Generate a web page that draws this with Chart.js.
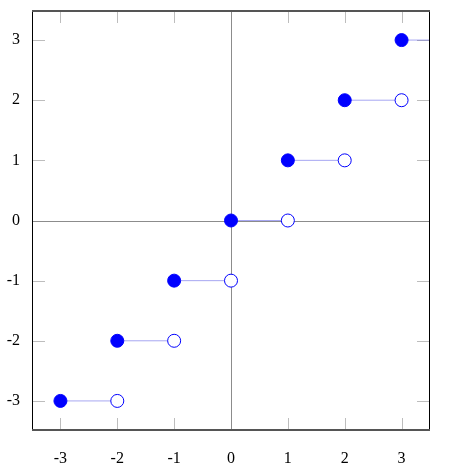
<!DOCTYPE html>
<html lang="en">
<head>
    <meta charset="UTF-8">
    <title>Floor function</title>
    <script src="https://cdn.jsdelivr.net/npm/chart.js"></script>
    <style>
        body { margin: 0; background: #fff; }
        #floorChart { display: block; }
    </style>
</head>
<body>
    <canvas id="floorChart" width="460" height="472"></canvas>
    <script>
        // step values
        const stepStart = [-3, -2, -1, 0, 1, 2, 3];   // filled dot x
        const stepValue = [-3, -2, -1, 0, 1, 2, 3];   // y of each step
        const stepEnd = [-2, -1, 0, 1, 2, 3, 3.5];    // where each step's line stops
        const openX = [-2, -1, 0, 1, 2, 3];           // open dot x
        const openY = [-3, -2, -1, 0, 1, 2];
        const tickValues = [-3, -2, -1, 0, 1, 2, 3];
        const axisMin = -3.5, axisMax = 3.5;

        const blue = '#0000ff';
        const stepLine = 'rgba(80, 80, 230, 0.5)';

        // one small dataset per horizontal step
        const stepSets = stepStart.map((x, i) => ({
            type: 'scatter',
            data: [{ x: x, y: stepValue[i] }, { x: stepEnd[i], y: stepValue[i] }],
            showLine: true,
            borderColor: stepLine,
            borderWidth: 1,
            pointRadius: 0,
            order: 2
        }));

        // frame, inner ticks and the two axis lines
        const framePlugin = {
            id: 'frame',
            beforeDatasetsDraw(chart) {
                const { ctx, chartArea: a, scales: { x, y } } = chart;
                const len = 13;
                ctx.save();
                ctx.lineWidth = 1;
                ctx.strokeStyle = '#bdbdbd';
                ctx.beginPath();
                tickValues.forEach(v => {
                    const px = Math.round(x.getPixelForValue(v)) + 0.5;
                    ctx.moveTo(px, a.top); ctx.lineTo(px, a.top + len);
                    ctx.moveTo(px, a.bottom); ctx.lineTo(px, a.bottom - len);
                    const py = Math.round(y.getPixelForValue(v)) + 0.5;
                    ctx.moveTo(a.left, py); ctx.lineTo(a.left + len, py);
                    ctx.moveTo(a.right, py); ctx.lineTo(a.right - len, py);
                });
                ctx.stroke();

                ctx.strokeStyle = '#8c8c8c';
                ctx.beginPath();
                const x0 = Math.round(x.getPixelForValue(0)) + 0.5;
                const y0 = Math.round(y.getPixelForValue(0)) + 0.5;
                ctx.moveTo(x0, a.top); ctx.lineTo(x0, a.bottom);
                ctx.moveTo(a.left, y0); ctx.lineTo(a.right, y0);
                ctx.stroke();
                ctx.restore();
            },
            afterDraw(chart) {
                const { ctx, chartArea: a } = chart;
                ctx.save();
                ctx.lineWidth = 1;
                ctx.strokeStyle = '#000';
                ctx.beginPath();
                ctx.moveTo(Math.round(a.left) + 0.5, a.top);
                ctx.lineTo(Math.round(a.left) + 0.5, a.bottom);
                ctx.moveTo(Math.round(a.right) - 0.5, a.top);
                ctx.lineTo(Math.round(a.right) - 0.5, a.bottom);
                ctx.stroke();
                ctx.strokeStyle = '#555';
                ctx.lineWidth = 2;
                ctx.beginPath();
                ctx.moveTo(a.left, Math.round(a.top) + 1);
                ctx.lineTo(a.right, Math.round(a.top) + 1);
                ctx.moveTo(a.left, Math.round(a.bottom) - 1);
                ctx.lineTo(a.right, Math.round(a.bottom) - 1);
                ctx.stroke();
                ctx.restore();
            }
        };

        const fixedTicks = axis => { axis.ticks = tickValues.map(v => ({ value: v })); };
        const tickFont = { family: "'Liberation Serif', 'Times New Roman', serif", size: 16 };

        new Chart(document.getElementById('floorChart'), {
            type: 'scatter',
            data: {
                datasets: [
                    {
                        data: stepStart.map((x, i) => ({ x: x, y: stepValue[i] })),
                        backgroundColor: blue,
                        borderColor: blue,
                        borderWidth: 1,
                        pointRadius: 6.5,
                        order: 0
                    },
                    {
                        data: openX.map((x, i) => ({ x: x, y: openY[i] })),
                        backgroundColor: '#fff',
                        borderColor: blue,
                        borderWidth: 1,
                        pointRadius: 6.5,
                        order: 1
                    },
                    ...stepSets
                ]
            },
            options: {
                responsive: false,
                animation: false,
                layout: { padding: { top: 10, right: 30, left: 0, bottom: 0 } },
                plugins: { legend: { display: false }, tooltip: { enabled: false } },
                scales: {
                    x: {
                        type: 'linear',
                        min: axisMin,
                        max: axisMax,
                        afterBuildTicks: fixedTicks,
                        afterFit: s => { s.height = 41; s.paddingLeft = 0; s.paddingRight = 0; },
                        grid: { display: false, drawTicks: false },
                        border: { display: false },
                        ticks: { color: '#000', font: tickFont, padding: 18, maxRotation: 0 }
                    },
                    y: {
                        type: 'linear',
                        min: axisMin,
                        max: axisMax,
                        afterBuildTicks: fixedTicks,
                        afterFit: s => { s.width = 32; s.paddingTop = 0; s.paddingBottom = 0; },
                        grid: { display: false, drawTicks: false },
                        border: { display: false },
                        ticks: { color: '#000', font: tickFont, padding: 12 }
                    }
                }
            },
            plugins: [framePlugin]
        });
    </script>
</body>
</html>
